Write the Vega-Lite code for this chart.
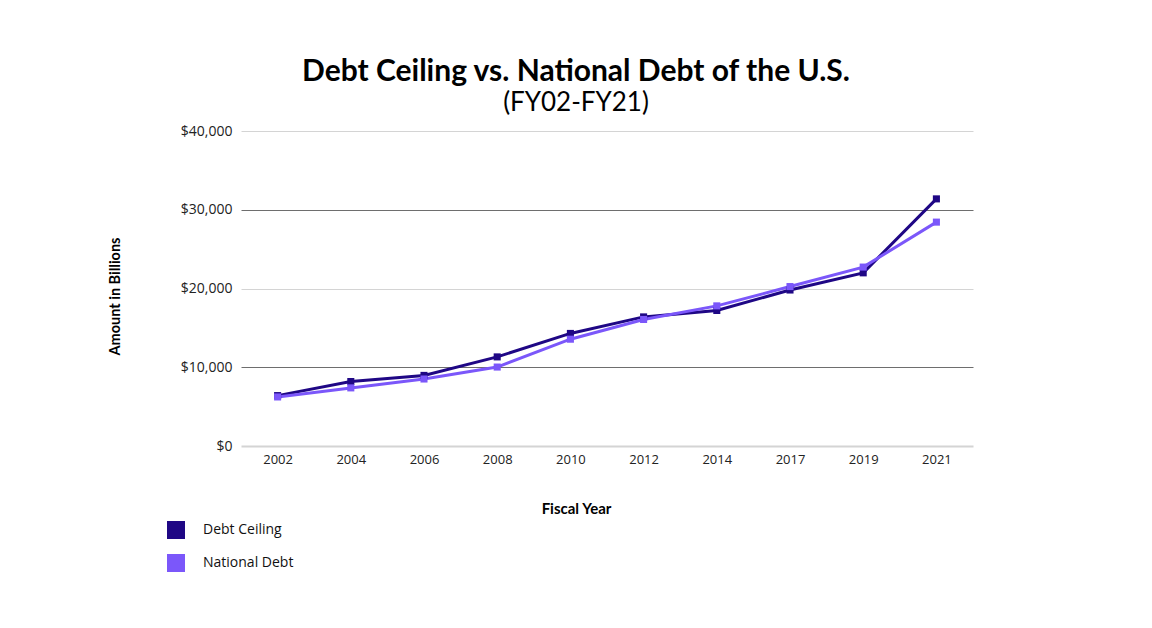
{
  "$schema": "https://vega.github.io/schema/vega-lite/v6.json",
  "autosize": {"type": "none"},
  "width": 732,
  "height": 315,
  "padding": {"left": 241, "top": 131, "right": 179, "bottom": 182},
  "background": "white",
  "config": {"view": {"stroke": null}},
  "title": {
    "text": "Debt Ceiling vs. National Debt of the U.S.",
    "subtitle": "(FY02-FY21)",
    "anchor": "middle",
    "dx": -31,
    "font": "Lato",
    "fontSize": 30,
    "fontWeight": "bold",
    "color": "#000000",
    "subtitleFont": "Lato",
    "subtitleFontSize": 26,
    "subtitleColor": "#000000",
    "subtitlePadding": 3,
    "offset": 8
  },
  "data": {
    "values": [
      {"year": "2002", "series": "Debt Ceiling", "amount": 6400},
      {"year": "2004", "series": "Debt Ceiling", "amount": 8184},
      {"year": "2006", "series": "Debt Ceiling", "amount": 8965},
      {"year": "2008", "series": "Debt Ceiling", "amount": 11315},
      {"year": "2010", "series": "Debt Ceiling", "amount": 14294},
      {"year": "2012", "series": "Debt Ceiling", "amount": 16394},
      {"year": "2014", "series": "Debt Ceiling", "amount": 17212},
      {"year": "2017", "series": "Debt Ceiling", "amount": 19808},
      {"year": "2019", "series": "Debt Ceiling", "amount": 21988},
      {"year": "2021", "series": "Debt Ceiling", "amount": 31381},
      {"year": "2002", "series": "National Debt", "amount": 6228},
      {"year": "2004", "series": "National Debt", "amount": 7379},
      {"year": "2006", "series": "National Debt", "amount": 8507},
      {"year": "2008", "series": "National Debt", "amount": 10025},
      {"year": "2010", "series": "National Debt", "amount": 13562},
      {"year": "2012", "series": "National Debt", "amount": 16066},
      {"year": "2014", "series": "National Debt", "amount": 17794},
      {"year": "2017", "series": "National Debt", "amount": 20245},
      {"year": "2019", "series": "National Debt", "amount": 22719},
      {"year": "2021", "series": "National Debt", "amount": 28429}
    ]
  },
  "mark": {"type": "line", "strokeWidth": 3, "point": {"shape": "square", "size": 50, "filled": true, "opacity": 1}},
  "encoding": {
    "x": {
      "field": "year",
      "type": "ordinal",
      "scale": {"type": "point", "padding": 0.5},
      "axis": {
        "title": "Fiscal Year",
        "labelAngle": 0,
        "labelFont": "Open Sans",
        "labelFontSize": 13,
        "labelColor": "#222222",
        "labelPadding": 7,
        "domain": false,
        "ticks": false,
        "titleFont": "Lato",
        "titleFontSize": 15,
        "titleFontWeight": "bold",
        "titleColor": "#000000",
        "titleX": 335,
        "titleY": 62,
        "titleBaseline": "middle",
        "titleAlign": "center"
      }
    },
    "y": {
      "field": "amount",
      "type": "quantitative",
      "scale": {"domain": [0, 40000]},
      "axis": {
        "title": "Amount in Billions",
        "values": [0, 10000, 20000, 30000, 40000],
        "format": "$,.0f",
        "labelFont": "Open Sans",
        "labelFontSize": 14,
        "labelColor": "#222222",
        "labelPadding": 9,
        "domain": false,
        "ticks": false,
        "grid": true,
        "gridColor": {"condition": {"test": "datum.value % 20000 === 10000", "value": "#6e6e6e"}, "value": "#d4d4d4"},
        "gridWidth": {"condition": {"test": "datum.value === 0", "value": 2}, "value": 1},
        "titleFont": "Lato",
        "titleFontSize": 14.5,
        "titleFontWeight": "bold",
        "titleColor": "#000000",
        "titleAngle": -90,
        "titleX": -126,
        "titleY": 165,
        "titleBaseline": "middle",
        "titleAlign": "center"
      }
    },
    "color": {
      "field": "series",
      "type": "nominal",
      "scale": {"domain": ["Debt Ceiling", "National Debt"], "range": ["#1f0785", "#7b57fa"]},
      "legend": {
        "title": null,
        "orient": "none",
        "legendX": -74,
        "legendY": 390,
        "symbolType": "square",
        "symbolSize": 324,
        "symbolStrokeWidth": 0,
        "symbolFillColor": null,
        "labelFont": "Open Sans",
        "labelFontSize": 14,
        "labelColor": "#111111",
        "labelOffset": 18,
        "rowPadding": 15
      }
    }
  }
}
